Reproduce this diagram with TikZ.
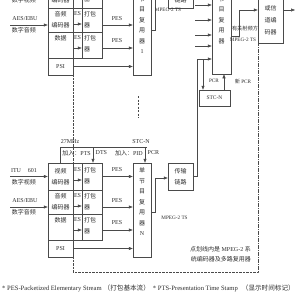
\documentclass[tikz,border=0pt]{standalone}
\usepackage{fontspec}
\setmainfont{Liberation Serif}
\newfontfamily\cjk{Noto Sans CJK SC}
\usetikzlibrary{arrows.meta}
\definecolor{ink}{HTML}{4A4A4A}
\definecolor{txt}{HTML}{2E2E2E}
\newcommand\zh[1]{{\cjk #1}}
\tikzset{
 ln/.style={draw=ink,line width=0.5pt},
 arr/.style={ln,-{Triangle[length=4pt,width=3pt]}},
 bx/.style={ln,inner sep=0pt,text=txt,font=\fontsize{6}{11}\selectfont,align=center},
 lb/.style={inner sep=0pt,text=txt,font=\fontsize{6}{11}\selectfont},
 dd/.style={draw=ink,line width=0.5pt,dash pattern=on 1.5pt off 0.8pt on 0.4pt off 0.8pt},
}
\newcommand\prog[5]{%
\begin{scope}[yshift=#1]
\node[bx,minimum width=25pt,minimum height=27pt] (venc#2) at (60.5,176.5) {\zh{视频}\\\zh{编码器}};
\node[bx,minimum width=9pt,minimum height=27pt] (ves#2) at (77.5,176.5) {};
\node[bx,minimum width=20pt,minimum height=27pt] (vpk#2) at (92,176.5) {};
\node[lb] (vest#2) at (77.5,170) {ES};
\node[lb,anchor=west,align=left] (vpkt#2) at (84,176) {\zh{打包}\\\zh{器}};
\node[bx,minimum width=25pt,minimum height=24pt] (aenc#2) at (60.5,202) {\zh{音频}\\\zh{编码器}};
\node[bx,minimum width=9pt,minimum height=24pt] (aes#2) at (77.5,202) {};
\node[bx,minimum width=20pt,minimum height=24pt] (apk#2) at (92,202) {};
\node[lb] (aest#2) at (77.5,196) {ES};
\node[lb,anchor=west,align=left] (apkt#2) at (84,201.5) {\zh{打包}\\\zh{器}};
\node[bx,minimum width=25pt,minimum height=26pt] (denc#2) at (60.5,227) {};
\node[lb] (dat#2) at (60.5,220) {\zh{数据}};
\node[bx,minimum width=9pt,minimum height=26pt] (des#2) at (77.5,227) {};
\node[bx,minimum width=20pt,minimum height=26pt] (dpk#2) at (92,227) {};
\node[lb] (dest#2) at (77.5,220) {ES};
\node[lb,anchor=west,align=left] (dpkt#2) at (84,225.5) {\zh{打包}\\\zh{器}};
\node[bx,minimum width=25pt,minimum height=17pt] (psi#2) at (60.5,248.5) {PSI};
\node[bx,minimum width=18pt,minimum height=94pt] (mux#2) at (142,210) {};
\node[lb,align=center,font=\fontsize{6}{10.5}\selectfont] (muxt#2) at (142,201.5) {\zh{单}\\\zh{节}\\\zh{目}\\\zh{复}\\\zh{用}\\\zh{器}\\#3};
\coordinate (vin#2) at (10,176.5);
\draw[arr] (vin#2) -- (vin#2 -| venc#2.west);
\node[lb] (itu#2) at (24,171) {ITU\hspace{7pt}601};
\node[lb] (vdig#2) at (24,182) {\zh{数字视频}};
\coordinate (ain#2) at (10,207);
\draw[arr] (ain#2) -- (ain#2 -| aenc#2.west);
\node[lb] (aesl#2) at (25,201) {AES/EBU};
\node[lb] (adig#2) at (24,212) {\zh{数字音频}};
\draw[arr] ([yshift=-3.5pt]venc#2.east) -- ([yshift=-3.5pt]vpk#2.west);
\draw[arr] ([yshift=-4pt]aenc#2.east) -- ([yshift=-4pt]apk#2.west);
\draw[arr] ([yshift=-3pt]denc#2.east) -- ([yshift=-3pt]dpk#2.west);
\draw[arr] (vpk#2.east) -- (vpk#2.east -| mux#2.west);
\draw[arr] ([yshift=-5pt]apk#2.east) -- ([yshift=-5pt]apk#2.east -| mux#2.west);
\draw[arr] ([yshift=-3pt]dpk#2.east) -- ([yshift=-3pt]dpk#2.east -| mux#2.west);
\draw[arr] (psi#2.east) -- (psi#2.east -| mux#2.west);
\node[lb] (pes1#2) at (117,170) {PES};
\node[lb] (pes2#2) at (117,201) {PES};
\node[lb] (pes3#2) at (117,223) {PES};
\node[bx,minimum width=25pt,minimum height=27pt] (tr#2) at (180.5,176.5) {\zh{传输}\\\zh{链路}};
\draw[arr] ([yshift=-2pt]mux#2.east) -- ++(4,0) |- ([yshift=-1.5pt]tr#2.west);
\node[lb,font=\fontsize{5.2}{6}\selectfont] (ts#2) at (#5,#4) {MPEG-2 TS};
\end{scope}}
\begin{document}
\begin{tikzpicture}[x=1pt,y=-1pt]
\fill[white] (0,0) rectangle (300,300);
\useasboundingbox (0,0) rectangle (300,300);
\prog{0pt}{b}{N}{218}{174.5}
\prog{182pt}{a}{1}{192}{168}
% clock bus
\coordinate (bus0) at (60,147);
\coordinate (bus1) at (147,147);
\draw[ln] (bus0) -- (bus1);
\draw[ln] (bus0) -- (bus0 |- vencb.north);
\coordinate (ptsx) at (93,147);
\draw[arr] (ptsx) -- (ptsx |- vpkb.north);
\coordinate (pcrx) at (145,147);
\draw[arr] (pcrx) -- (pcrx |- muxb.north);
\node[lb] (mhz) at (70,142) {27MHz};
\node[lb] (stcl) at (141,142) {STC-N};
\node[lb,anchor=east] (ad1) at (91,153) {\zh{加入：}PTS};
\node[lb,anchor=west] (dts) at (95.5,153) {DTS};
\node[lb,anchor=east] (ad2) at (143,153) {\zh{加入：}PID};
\node[lb,anchor=west] (pcrl) at (147.5,153) {PCR};
% ellipsis
\coordinate (el0) at (138,96);
\coordinate (el1) at (138,118);
\draw[ln,dash pattern=on 2pt off 1.5pt] (el0) -- (el1);
% remux
\node[bx,minimum width=19pt,minimum height=94pt] (remux) at (221.5,27) {};
\node[lb,align=center,font=\fontsize{6}{10.5}\selectfont] (remuxt) at (221.5,20) {\zh{节}\\\zh{目}\\\zh{复}\\\zh{用}\\\zh{器}};
\coordinate (trv) at (197,59);
\draw[ln] (trb.east) -| (trv);
\draw[arr] (trv) -- (trv -| remux.west);
\foreach \yy in {5,20,35,46}{
  \coordinate (st\yy) at (195,\yy);
  \draw[arr] (st\yy) -- (st\yy -| remux.west);
}
\node[bx,minimum width=31pt,minimum height=16pt,font=\fontsize{5.5}{6}\selectfont] (stc) at (214.5,98) {STC-N};
\coordinate (tap) at (203,59);
\draw[arr] (tap) -- (tap |- stc.north);
\coordinate (np) at (224,90);
\draw[arr] (np) -- (np |- remux.south);
\node[lb,font=\fontsize{5.2}{6}\selectfont] (pcrt) at (214,81) {PCR};
\node[lb,font=\fontsize{5.2}{6}\selectfont] (npcr) at (243,81) {\zh{新} PCR};
\node[bx,minimum width=25pt,minimum height=63pt] (enc) at (270.5,11.5) {};
\node[lb,align=center,font=\fontsize{6}{12}\selectfont] (enct) at (270.5,14) {\zh{调制}\\\zh{或信}\\\zh{道编}\\\zh{码器}};
\draw[arr] ([yshift=-9pt]remux.east) -- ++(8,0) |- (enc.west |- 0,10);
\coordinate (eo) at (295,10);
\draw[arr] (enc.east |- eo) -- (eo);
\node[lb,font=\fontsize{5.2}{6}\selectfont] (rfl) at (245,29) {\zh{有关射频方}};
\node[lb,font=\fontsize{5.2}{6}\selectfont] (tsl) at (243,40) {MPEG-2 TS};
% dash-dot frame
\draw[dd] (psia.south east) |- (258,272) -- (enc.south -| 258,0);
\node[lb,anchor=east] (n1) at (251,249) {\zh{点划线内是} MPEG-2 \zh{系}};
\node[lb,anchor=east] (n2) at (251,259) {\zh{统编码器及多路复用器}};
% footnotes
\node[lb,anchor=west,font=\fontsize{6.6}{7}\selectfont] (f1) at (2,288) {* PES-Packetized Elementary Stream\hspace{2pt}\zh{（打包基本流）}\hspace{3pt}* PTS-Presentation Time Stamp\hspace{4pt}\zh{（显示时间标记）}};
\end{tikzpicture}
\end{document}
